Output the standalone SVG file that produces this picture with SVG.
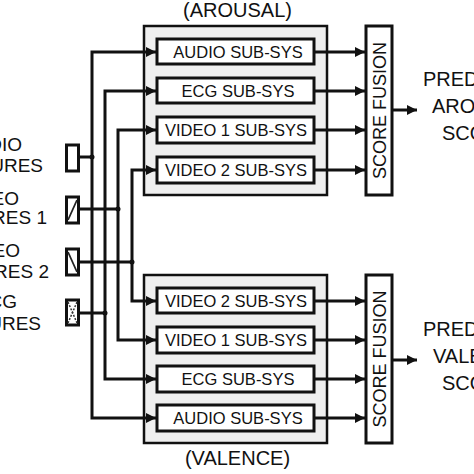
<svg xmlns="http://www.w3.org/2000/svg" width="474" height="474" viewBox="0 0 474 474">
<defs>
<style>
text{font-family:"Liberation Sans",Arial,sans-serif;fill:#111;}
.outer{fill:#efefef;stroke:#111;stroke-width:2.5;}
.sub{fill:#fff;stroke:#111;stroke-width:3;}
.fus{fill:#fff;stroke:#111;stroke-width:3;}
.feat{fill:#fff;stroke:#111;stroke-width:3;}
.hatch{stroke:#222;stroke-width:1.8;fill:none;}
.dot{stroke:#333;stroke-width:1.5;stroke-dasharray:2 1.5;fill:none;}
.subt{font-size:16.5px;text-anchor:middle;}
.lbl{font-size:19px;text-anchor:end;}
.out{font-size:20px;}
.fust{font-size:18px;text-anchor:middle;}
.ttl{font-size:20px;text-anchor:middle;}
.wire{fill:none;stroke:#111;stroke-width:3;}
.arr{fill:none;stroke:#111;stroke-width:3;marker-end:url(#ah);}
</style>
<marker id="ah" markerUnits="userSpaceOnUse" markerWidth="10" markerHeight="10" viewBox="0 0 10 10" refX="10" refY="5" orient="auto">
<path d="M0,0 L10,5 L0,10 z" fill="#111"/>
</marker>
</defs>
<rect width="474" height="474" fill="#fff"/>

<g id="feature-audio">
<rect class="feat" x="66.5" y="145" width="12" height="26"/>
<text class="lbl" x="22" y="151">AUDIO</text>
<text class="lbl" x="43" y="172">FEATURES</text>
</g>
<g id="feature-video1">
<rect class="feat" x="66.5" y="197" width="12" height="26"/>
<line class="hatch" x1="68" y1="220" x2="77" y2="200"/>
<text class="lbl" x="19" y="205">VIDEO</text>
<text class="lbl" x="47" y="224">FEATURES 1</text>
</g>
<g id="feature-video2">
<rect class="feat" x="66.5" y="249" width="12" height="26"/>
<line class="hatch" x1="68" y1="252" x2="77" y2="272"/>
<text class="lbl" x="20" y="257">VIDEO</text>
<text class="lbl" x="49" y="278">FEATURES 2</text>
</g>
<g id="feature-ecg">
<rect class="feat" x="66.5" y="300" width="12" height="25"/>
<line class="dot" x1="68" y1="302" x2="77" y2="323"/>
<line class="dot" x1="77" y1="302" x2="68" y2="323"/>
<text class="lbl" x="17" y="308">ECG</text>
<text class="lbl" x="41" y="330">FEATURES</text>
</g>

<g id="arousal">
<text class="ttl" x="237.5" y="17">(AROUSAL)</text>
<rect class="outer" x="144" y="26" width="183" height="169"/>
<g id="a-audio"><rect class="sub" x="157" y="39" width="157" height="25"/><text class="subt" x="238" y="57.5">AUDIO SUB-SYS</text></g>
<g id="a-ecg"><rect class="sub" x="157" y="78" width="157" height="25"/><text class="subt" x="238" y="96.5">ECG SUB-SYS</text></g>
<g id="a-video1"><rect class="sub" x="157" y="117" width="157" height="26"/><text class="subt" x="236" y="136">VIDEO 1 SUB-SYS</text></g>
<g id="a-video2"><rect class="sub" x="157" y="157" width="157" height="26"/><text class="subt" x="236" y="176">VIDEO 2 SUB-SYS</text></g>
</g>

<g id="valence">
<rect class="outer" x="144" y="275" width="183" height="168"/>
<text class="ttl" x="237.5" y="465">(VALENCE)</text>
<g id="v-video2"><rect class="sub" x="157" y="288" width="157" height="25"/><text class="subt" x="236" y="306.5">VIDEO 2 SUB-SYS</text></g>
<g id="v-video1"><rect class="sub" x="157" y="327" width="157" height="26"/><text class="subt" x="236" y="346">VIDEO 1 SUB-SYS</text></g>
<g id="v-ecg"><rect class="sub" x="157" y="366" width="157" height="26"/><text class="subt" x="238" y="385">ECG SUB-SYS</text></g>
<g id="v-audio"><rect class="sub" x="157" y="405" width="157" height="26"/><text class="subt" x="238" y="424">AUDIO SUB-SYS</text></g>
</g>

<g id="fusion-arousal">
<rect class="fus" x="366" y="26" width="26" height="169"/>
<text class="fust" transform="translate(386,110.5) rotate(-90)">SCORE FUSION</text>
</g>
<g id="fusion-valence">
<rect class="fus" x="366" y="275" width="26" height="168"/>
<text class="fust" transform="translate(386,359) rotate(-90)">SCORE FUSION</text>
</g>

<g id="output-arousal">
<text class="out" x="423" y="86">PREDICTED</text>
<text class="out" x="432" y="113">AROUSAL</text>
<text class="out" x="442" y="140">SCORE</text>
</g>
<g id="output-valence">
<text class="out" x="423" y="336">PREDICTED</text>
<text class="out" x="433" y="363">VALENCE</text>
<text class="out" x="442" y="390">SCORE</text>
</g>

<g id="connectors">
<path class="wire" d="M78.5,157 H92"/>
<path class="wire" d="M78.5,209 H118"/>
<path class="wire" d="M78.5,262 H132"/>
<path class="wire" d="M78.5,313 H105"/>
<path class="arr" d="M92,157 V52 H156"/>
<path class="arr" d="M92,157 V418 H156"/>
<path class="arr" d="M105,313 V91 H156"/>
<path class="arr" d="M105,313 V379 H156"/>
<path class="arr" d="M118,209 V130 H156"/>
<path class="arr" d="M118,209 V340 H156"/>
<path class="arr" d="M132,262 V170 H156"/>
<path class="arr" d="M132,262 V301 H156"/>
<circle cx="92" cy="157" r="2.5" fill="#111"/>
<circle cx="118" cy="209" r="2.5" fill="#111"/>
<circle cx="132" cy="262" r="2.5" fill="#111"/>
<circle cx="105" cy="313" r="2.5" fill="#111"/>
<path class="arr" d="M314,52 H365"/>
<path class="arr" d="M314,91 H365"/>
<path class="arr" d="M314,130 H365"/>
<path class="arr" d="M314,170 H365"/>
<path class="arr" d="M314,301 H365"/>
<path class="arr" d="M314,340 H365"/>
<path class="arr" d="M314,379 H365"/>
<path class="arr" d="M314,418 H365"/>
<path class="arr" d="M392,110 H417"/>
<path class="arr" d="M392,360 H417"/>
</g>
</svg>
